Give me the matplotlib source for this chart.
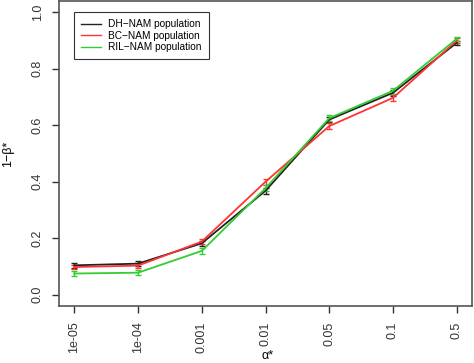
import numpy as np
import matplotlib.pyplot as plt
from matplotlib.lines import Line2D

plt.rcParams['font.family'] = ['Liberation Sans', 'DejaVu Sans']

# data
alpha_labels = ['1e-05', '1e-04', '0.001', '0.01', '0.05', '0.1', '0.5']
dh = [0.104, 0.110, 0.182, 0.368, 0.620, 0.715, 0.892]
bc = [0.098, 0.103, 0.188, 0.400, 0.597, 0.697, 0.900]
ril = [0.075, 0.078, 0.155, 0.377, 0.625, 0.722, 0.906]
dh_err = [0.008, 0.008, 0.009, 0.010, 0.010, 0.010, 0.008]
bc_err = [0.008, 0.008, 0.009, 0.010, 0.010, 0.010, 0.008]
ril_err = [0.008, 0.008, 0.010, 0.010, 0.011, 0.010, 0.008]

names = ['DH\u2212NAM population', 'BC\u2212NAM population', 'RIL\u2212NAM population']
colors = ['#222222', '#ff3333', '#33cc33']

x = np.arange(1, len(alpha_labels) + 1)

fig = plt.figure(figsize=(4.74, 3.63), dpi=100)
ax = fig.add_axes([59/474, 1 - 306/363, 413/474, 305/363])

for vals, err, c in zip([dh, bc, ril], [dh_err, bc_err, ril_err], colors):
    ax.errorbar(x, vals, yerr=err, color=c, lw=1.3, elinewidth=1.0,
                capsize=2.5, capthick=1.0)

ax.set_xlim(0.76, 7.24)
ax.set_ylim(-0.04, 1.04)
ax.set_xticks(x)
ax.set_xticklabels(alpha_labels, rotation=90)
ax.set_yticks([0.0, 0.2, 0.4, 0.6, 0.8, 1.0])
ax.set_yticklabels(['0.0', '0.2', '0.4', '0.6', '0.8', '1.0'], rotation=90, va='center')
ax.tick_params(labelsize=9, colors='#333333', length=5, width=1, pad=6)
for s in ax.spines.values():
    s.set_color('#555555')
    s.set_linewidth(1.2)

ax.set_xlabel('\u03b1*', fontsize=9)
ax.xaxis.set_label_coords((268 - 59) / 413, -44/305)
ax.set_ylabel('1\u2212\u03b2*', fontsize=9)
ax.yaxis.set_label_coords(-45/413, 0.5)

handles = [Line2D([], [], color=c, lw=1.0) for c in colors]
leg = ax.legend(handles, names, loc='upper left', bbox_to_anchor=(74/474, 1 - 12/363),
                bbox_transform=fig.transFigure, borderaxespad=0,
                fancybox=False, edgecolor='#333333', framealpha=1,
                fontsize=7.3, handlelength=2.0, handletextpad=0.7,
                labelspacing=0.15, borderpad=0.7)
leg.get_frame().set_linewidth(0.8)

fig.savefig('out.png', dpi=100)
